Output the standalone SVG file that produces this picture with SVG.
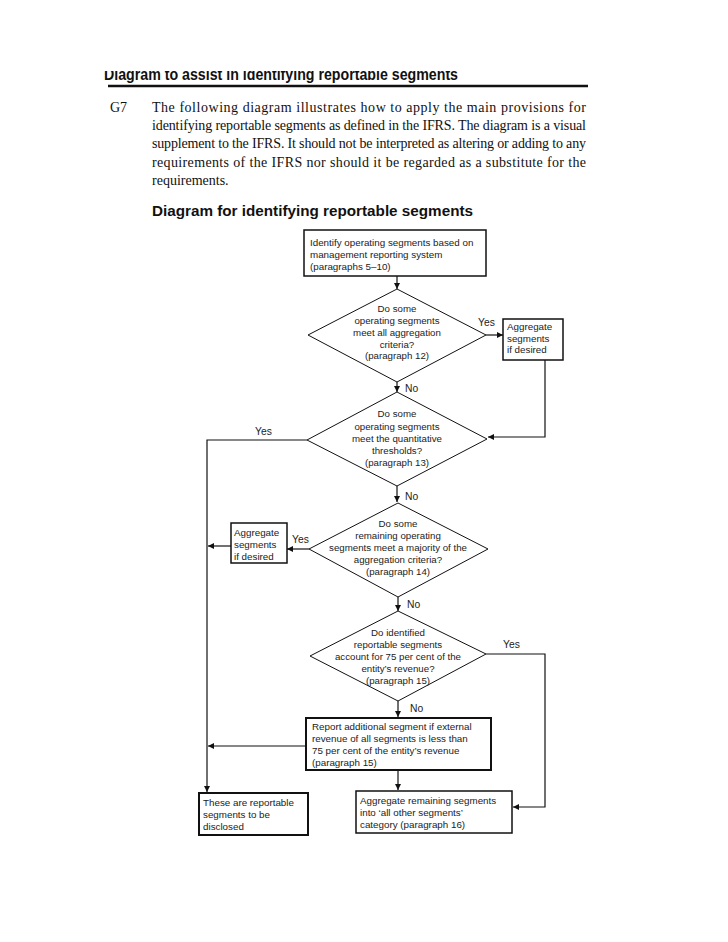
<svg xmlns="http://www.w3.org/2000/svg" width="728" height="942" viewBox="0 0 728 942">
<style>
.t{font-family:"Liberation Sans",Arial,sans-serif;font-size:9.8px;fill:#222}
.tc{font-family:"Liberation Sans",Arial,sans-serif;font-size:9.7px;fill:#222;text-anchor:middle}
.lb{font-family:"Liberation Sans",Arial,sans-serif;font-size:10.3px;fill:#222}
.p{font-family:"Liberation Serif","Times New Roman",serif;font-size:14px;fill:#111}
.box{fill:#fff;stroke:#111;stroke-width:1.5}
.box2{fill:#fff;stroke:#111;stroke-width:2}
.dia{fill:#fff;stroke:#111;stroke-width:1}
.ln{fill:none;stroke:#111;stroke-width:1.2}
.ar{fill:none;stroke:#111;stroke-width:1.2;marker-end:url(#ah)}
</style>
<defs>
<marker id="ah" markerUnits="userSpaceOnUse" markerWidth="8" markerHeight="8" refX="6" refY="3" orient="auto">
<path d="M0,0 L6,3 L0,6 z" fill="#111"/>
</marker>
<clipPath id="cut"><rect x="0" y="71" width="728" height="20"/></clipPath>
</defs>
<rect width="728" height="942" fill="#fff"/>
<g id="header">
<text x="104" y="79.5" clip-path="url(#cut)" style="font-family:'Liberation Sans',Arial,sans-serif;font-weight:bold;font-size:17px;fill:#111" textLength="354" lengthAdjust="spacingAndGlyphs">Diagram to assist in identifying reportable segments</text>
<line x1="108" y1="86" x2="588" y2="86" stroke="#111" stroke-width="2.5"/>
<text class="p" x="110" y="112">G7</text>
<text class="p" x="152" y="112" textLength="434" lengthAdjust="spacing">The following diagram illustrates how to apply the main provisions for</text>
<text class="p" x="152" y="130.2" textLength="434" lengthAdjust="spacing">identifying reportable segments as defined in the IFRS.  The diagram is a visual</text>
<text class="p" x="152" y="148.4" textLength="434" lengthAdjust="spacing">supplement to the IFRS.  It should not be interpreted as altering or adding to any</text>
<text class="p" x="152" y="166.6" textLength="434" lengthAdjust="spacing">requirements of the IFRS nor should it be regarded as a substitute for the</text>
<text class="p" x="152" y="184.8">requirements.</text>
<text x="152" y="216" style="font-family:'Liberation Sans',Arial,sans-serif;font-weight:bold;font-size:14.5px;fill:#111" textLength="321" lengthAdjust="spacingAndGlyphs">Diagram for identifying reportable segments</text>
</g>
<g id="connectors">
<line class="ar" x1="397" y1="276" x2="397" y2="289"/>
<line class="ar" x1="486" y1="335" x2="503" y2="335"/>
<polyline class="ar" points="545,360 545,437 488,437"/>
<line class="ar" x1="397" y1="382" x2="397" y2="392"/>
<polyline class="ar" points="307,440 207,440 207,792"/>
<line class="ar" x1="397" y1="486" x2="397" y2="502"/>
<line class="ar" x1="309" y1="549" x2="287" y2="549"/>
<line class="ar" x1="231" y1="546" x2="208" y2="546"/>
<line class="ar" x1="398" y1="597" x2="398" y2="611"/>
<polyline class="ar" points="486,654 545,654 545,807 513,807"/>
<line class="ar" x1="398" y1="701" x2="398" y2="717"/>
<line class="ar" x1="306" y1="746" x2="208" y2="746"/>
<line class="ar" x1="398" y1="770" x2="398" y2="790"/>
<text class="lb" x="478" y="326">Yes</text>
<text class="lb" x="405" y="392">No</text>
<text class="lb" x="255" y="435">Yes</text>
<text class="lb" x="405" y="500">No</text>
<text class="lb" x="292" y="543">Yes</text>
<text class="lb" x="407" y="608">No</text>
<text class="lb" x="503" y="648">Yes</text>
<text class="lb" x="410" y="712">No</text>
</g>
<g id="n1">
<rect class="box" x="304" y="230" width="182" height="46"/>
<text class="t" x="310" y="246">Identify operating segments based on</text>
<text class="t" x="310" y="258">management reporting system</text>
<text class="t" x="310" y="270">(paragraphs 5–10)</text>
</g>
<g id="d1">
<polygon class="dia" points="397,289 486,335 397,382 308,335"/>
<text class="tc" x="397" y="312">Do some</text>
<text class="tc" x="397" y="324">operating segments</text>
<text class="tc" x="397" y="336">meet all aggregation</text>
<text class="tc" x="397" y="347.5">criteria?</text>
<text class="tc" x="397" y="359">(paragraph 12)</text>
</g>
<g id="n2">
<rect class="box" x="503" y="319" width="60" height="41"/>
<text class="t" x="507" y="330">Aggregate</text>
<text class="t" x="507" y="341.5">segments</text>
<text class="t" x="507" y="353">if desired</text>
</g>
<g id="d2">
<polygon class="dia" points="397,392 487,439 397,486 307,440"/>
<text class="tc" x="397" y="417">Do some</text>
<text class="tc" x="397" y="430">operating segments</text>
<text class="tc" x="397" y="442">meet the quantitative</text>
<text class="tc" x="397" y="454">thresholds?</text>
<text class="tc" x="397" y="466">(paragraph 13)</text>
</g>
<g id="d3">
<polygon class="dia" points="398,503 488,549 398,597 309,549"/>
<text class="tc" x="398" y="527">Do some</text>
<text class="tc" x="398" y="539">remaining operating</text>
<text class="tc" x="398" y="551">segments meet a majority of the</text>
<text class="tc" x="398" y="563">aggregation criteria?</text>
<text class="tc" x="398" y="575">(paragraph 14)</text>
</g>
<g id="n3">
<rect class="box" x="231" y="523" width="56" height="40"/>
<text class="t" x="234" y="536">Aggregate</text>
<text class="t" x="234" y="548">segments</text>
<text class="t" x="234" y="560">if desired</text>
</g>
<g id="d4">
<polygon class="dia" points="398,611 486,654 398,701 310,656"/>
<text class="tc" x="398" y="636">Do identified</text>
<text class="tc" x="398" y="648">reportable segments</text>
<text class="tc" x="398" y="660">account for 75 per cent of the</text>
<text class="tc" x="398" y="672">entity’s revenue?</text>
<text class="tc" x="398" y="684">(paragraph 15)</text>
</g>
<g id="n4">
<rect class="box2" x="306" y="718" width="185" height="52"/>
<text class="t" x="312" y="730">Report additional segment if external</text>
<text class="t" x="312" y="742">revenue of all segments is less than</text>
<text class="t" x="312" y="754">75 per cent of the entity’s revenue</text>
<text class="t" x="312" y="766">(paragraph 15)</text>
</g>
<g id="n5">
<rect class="box" x="356" y="791" width="156" height="42"/>
<text class="t" x="360" y="804">Aggregate remaining segments</text>
<text class="t" x="360" y="816">into ‘all other segments’</text>
<text class="t" x="360" y="828">category (paragraph 16)</text>
</g>
<g id="n6">
<rect class="box2" x="199" y="793" width="109" height="42"/>
<text class="t" x="203" y="806">These are reportable</text>
<text class="t" x="203" y="818">segments to be</text>
<text class="t" x="203" y="830">disclosed</text>
</g>
</svg>
